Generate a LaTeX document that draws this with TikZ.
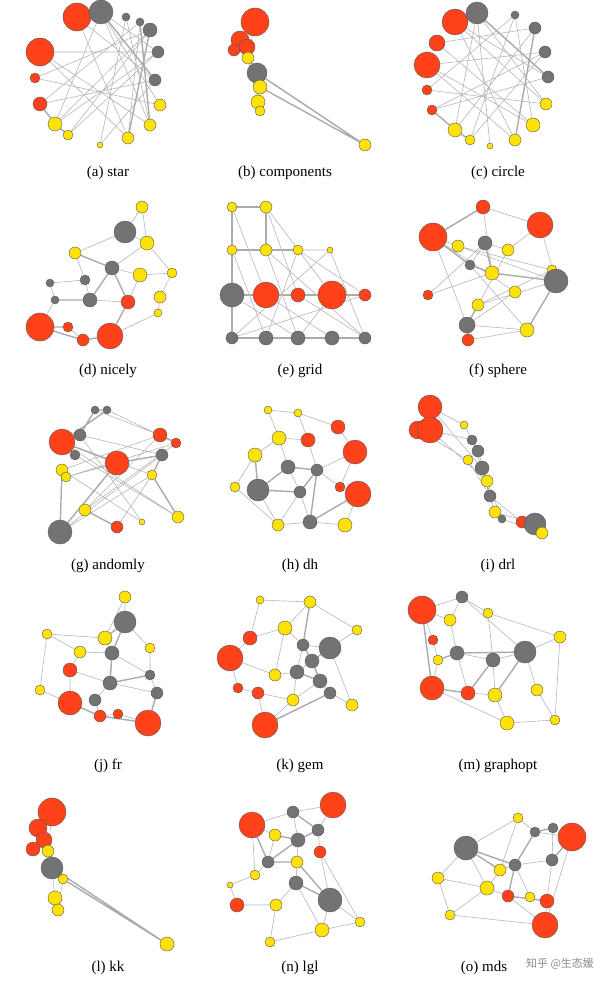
\documentclass[tikz,border=0pt]{standalone}
\usepackage{fontspec}
\setmainfont{Liberation Serif}
\newfontfamily\cjk{Noto Sans CJK SC}
\usetikzlibrary{backgrounds}
\tikzset{
 nd/.style={circle,draw=black!65,line width=0.4pt,inner sep=0pt},
 R/.style={nd,fill=red!65!orange!90!white},
 G/.style={nd,fill=black!55},
 Y/.style={nd,fill=yellow!85!orange},
 ed/.style={draw=black!28,line width=0.6pt},
 ew/.style={draw=black!33,line width=1.4pt},
 eW/.style={draw=black!33,line width=2.4pt},
 lab/.style={font=\fontsize{15}{18}\selectfont}
}
\newcommand\V[5]{\node[#5,minimum size=#4*2pt] (#1) at (#2,#3) {};}
\begin{document}
\begin{tikzpicture}[x=1pt,y=-1pt]
\useasboundingbox (0,0) rectangle (600,987);
% ---------- (a) star
\V{a1}{77}{17}{14}{R}\V{a2}{101}{12}{12}{G}\V{a3}{40}{52}{14}{R}\V{a4}{35}{78}{5}{R}
\V{a5}{40}{104}{7}{R}\V{a6}{55}{124}{7}{Y}\V{a7}{68}{135}{5}{Y}\V{a8}{100}{145}{3}{Y}
\V{a9}{128}{138}{6}{Y}\V{a10}{150}{125}{6}{Y}\V{a11}{160}{105}{6}{Y}\V{a12}{155}{80}{6}{G}
\V{a13}{158}{52}{6}{G}\V{a14}{150}{30}{7}{G}\V{a15}{126}{17}{4}{G}\V{a16}{140}{22}{4}{G}
\node[lab] (la) at (108,173) {(a) star};
% ---------- (b) components
\V{b1}{255}{22}{14}{R}\V{b2}{240}{40}{9}{R}\V{b3}{234}{50}{6}{R}\V{b4}{247}{47}{8}{R}
\V{b5}{248}{58}{6}{Y}\V{b6}{257}{73}{10}{G}\V{b7}{260}{87}{7}{Y}\V{b8}{258}{102}{7}{Y}
\V{b9}{260}{111}{5}{Y}\V{b10}{365}{145}{6}{Y}
\node[lab] (lb) at (285,173) {(b) components};
% ---------- (c) circle
\V{c1}{455}{22}{13}{R}\V{c2}{477}{13}{11}{G}\V{c3}{427}{65}{13}{R}\V{c4}{437}{43}{8}{R}
\V{c5}{427}{90}{5}{R}\V{c6}{432}{110}{5}{R}\V{c7}{455}{130}{7}{Y}\V{c8}{470}{140}{5}{Y}
\V{c9}{490}{146}{3}{Y}\V{c10}{515}{140}{6}{Y}\V{c11}{533}{125}{7}{Y}\V{c12}{546}{104}{6}{Y}
\V{c13}{548}{77}{6}{G}\V{c14}{545}{52}{6}{G}\V{c15}{535}{28}{6}{G}\V{c16}{515}{15}{4}{G}
\node[lab] (lc) at (498,173) {(c) circle};
% ---------- (d) nicely
\V{d1}{125}{232}{11}{G}\V{d2}{142}{207}{6}{Y}\V{d3}{147}{243}{7}{Y}\V{d4}{112}{268}{7}{G}
\V{d5}{140}{275}{7}{Y}\V{d6}{172}{273}{5}{Y}\V{d7}{160}{297}{6}{Y}\V{d8}{128}{302}{7}{R}
\V{d9}{90}{300}{7}{G}\V{d10}{75}{253}{6}{Y}\V{d11}{50}{283}{4}{G}\V{d12}{55}{300}{4}{G}
\V{d13}{85}{280}{5}{G}\V{d14}{40}{327}{14}{R}\V{d15}{68}{327}{5}{R}\V{d16}{110}{336}{13}{R}
\V{d17}{83}{340}{6}{R}\V{d18}{158}{313}{4}{Y}
\node[lab] (ld) at (108,371) {(d) nicely};
% ---------- (e) grid
\V{e1}{232}{207}{5}{Y}\V{e2}{266}{207}{6}{Y}
\V{e3}{232}{250}{5}{Y}\V{e4}{266}{250}{6}{Y}\V{e5}{298}{250}{5}{Y}\V{e6}{330}{250}{3}{Y}
\V{e7}{232}{295}{12}{G}\V{e8}{266}{295}{13}{R}\V{e9}{298}{295}{7}{R}\V{e10}{332}{295}{14}{R}\V{e11}{365}{295}{6}{R}
\V{e12}{232}{338}{6}{G}\V{e13}{266}{338}{7}{G}\V{e14}{298}{338}{7}{G}\V{e15}{332}{338}{7}{G}\V{e16}{365}{338}{6}{G}
\node[lab] (le) at (300,371) {(e) grid};
% ---------- (f) sphere
\V{f1}{483}{207}{7}{R}\V{f2}{540}{225}{13}{R}\V{f3}{433}{237}{14}{R}\V{f4}{485}{243}{7}{G}
\V{f5}{458}{246}{6}{Y}\V{f6}{508}{250}{6}{Y}\V{f7}{470}{265}{5}{G}\V{f8}{492}{273}{7}{Y}
\V{f9}{552}{270}{5}{Y}\V{f10}{556}{281}{12}{G}\V{f11}{428}{295}{5}{R}\V{f12}{478}{305}{6}{Y}
\V{f13}{515}{292}{6}{Y}\V{f14}{467}{325}{8}{G}\V{f15}{468}{340}{6}{R}\V{f16}{527}{330}{7}{Y}
\node[lab] (lf) at (498,371) {(f) sphere};
% ---------- (g) andomly
\V{g1}{95}{410}{4}{G}\V{g2}{107}{410}{4}{G}\V{g3}{80}{435}{6}{G}\V{g4}{62}{442}{13}{R}
\V{g5}{160}{435}{7}{R}\V{g6}{176}{443}{5}{R}\V{g7}{162}{455}{6}{G}\V{g8}{117}{463}{12}{R}
\V{g9}{62}{470}{6}{Y}\V{g10}{66}{477}{5}{Y}\V{g11}{75}{455}{5}{G}\V{g12}{152}{475}{5}{Y}
\V{g13}{85}{510}{6}{Y}\V{g14}{117}{527}{6}{R}\V{g15}{60}{532}{12}{G}\V{g16}{142}{522}{3}{Y}
\V{g17}{178}{517}{6}{Y}
\node[lab] (lg) at (108,566) {(g) andomly};
% ---------- (h) dh
\V{h1}{268}{410}{4}{Y}\V{h2}{298}{413}{4}{Y}\V{h3}{338}{427}{7}{R}\V{h4}{279}{438}{7}{Y}
\V{h5}{308}{440}{7}{R}\V{h6}{355}{452}{12}{R}\V{h7}{255}{455}{7}{Y}\V{h8}{288}{467}{7}{G}
\V{h9}{317}{470}{6}{G}\V{h10}{300}{492}{6}{G}\V{h11}{258}{490}{11}{G}\V{h12}{235}{487}{5}{Y}
\V{h13}{340}{487}{5}{R}\V{h14}{358}{494}{13}{R}\V{h15}{278}{525}{6}{Y}\V{h16}{310}{522}{7}{G}
\V{h17}{345}{525}{7}{Y}
\node[lab] (lh) at (300,566) {(h) dh};
% ---------- (i) drl
\V{i1}{430}{407}{12}{R}\V{i2}{418}{430}{9}{R}\V{i3}{430}{430}{13}{R}\V{i4}{464}{425}{4}{Y}
\V{i5}{472}{440}{5}{G}\V{i6}{478}{451}{6}{G}\V{i7}{468}{460}{5}{Y}\V{i8}{482}{468}{7}{G}
\V{i9}{487}{481}{6}{Y}\V{i10}{490}{496}{6}{G}\V{i11}{495}{512}{6}{Y}\V{i12}{502}{519}{4}{G}
\V{i13}{522}{522}{6}{R}\V{i14}{535}{524}{11}{G}\V{i15}{542}{533}{6}{Y}
\node[lab] (li) at (498,566) {(i) drl};
% ---------- (j) fr
\V{j1}{125}{597}{6}{Y}\V{j2}{125}{622}{11}{G}\V{j3}{47}{634}{5}{Y}\V{j4}{105}{638}{7}{Y}
\V{j5}{80}{652}{6}{Y}\V{j6}{112}{653}{7}{G}\V{j7}{70}{670}{7}{R}\V{j8}{150}{648}{5}{Y}
\V{j9}{150}{675}{5}{G}\V{j10}{110}{683}{7}{G}\V{j11}{40}{690}{5}{Y}\V{j12}{157}{693}{6}{G}
\V{j13}{70}{703}{12}{R}\V{j14}{95}{700}{6}{G}\V{j15}{100}{716}{6}{R}\V{j16}{118}{714}{5}{R}
\V{j17}{148}{723}{13}{R}
\node[lab] (lj) at (108,766) {(j) fr};
% ---------- (k) gem
\V{k1}{260}{600}{4}{Y}\V{k2}{310}{602}{6}{Y}\V{k3}{250}{638}{7}{R}\V{k4}{285}{628}{7}{Y}
\V{k5}{303}{645}{6}{G}\V{k6}{330}{648}{11}{G}\V{k7}{312}{661}{7}{G}\V{k8}{357}{630}{5}{Y}
\V{k9}{230}{658}{13}{R}\V{k10}{275}{675}{6}{Y}\V{k11}{297}{672}{7}{G}\V{k12}{320}{681}{7}{G}
\V{k13}{238}{688}{5}{R}\V{k14}{258}{693}{6}{R}\V{k15}{293}{700}{6}{Y}\V{k16}{330}{693}{6}{G}
\V{k17}{265}{725}{13}{R}\V{k18}{352}{705}{6}{Y}
\node[lab] (lk) at (300,766) {(k) gem};
% ---------- (m) graphopt
\V{m1}{422}{610}{14}{R}\V{m2}{462}{597}{6}{G}\V{m3}{488}{613}{5}{Y}\V{m4}{450}{620}{6}{Y}
\V{m5}{433}{640}{5}{R}\V{m6}{457}{653}{7}{G}\V{m7}{493}{660}{7}{G}\V{m8}{525}{652}{11}{G}
\V{m9}{560}{637}{6}{Y}\V{m10}{438}{660}{5}{Y}\V{m11}{432}{688}{12}{R}\V{m12}{468}{693}{7}{R}
\V{m13}{495}{695}{7}{Y}\V{m14}{537}{690}{6}{Y}\V{m15}{507}{723}{7}{Y}\V{m16}{555}{720}{5}{Y}
\node[lab] (lm) at (498,766) {(m) graphopt};
% ---------- (l) kk
\V{l1}{52}{812}{14}{R}\V{l2}{38}{828}{9}{R}\V{l3}{44}{840}{8}{R}\V{l4}{33}{849}{7}{R}
\V{l5}{48}{851}{6}{Y}\V{l6}{52}{868}{11}{G}\V{l7}{63}{879}{5}{Y}\V{l8}{55}{898}{7}{Y}
\V{l9}{58}{910}{6}{Y}\V{l10}{167}{944}{7}{Y}
\node[lab] (ll) at (108,968) {(l) kk};
% ---------- (n) lgl
\V{n1}{333}{805}{13}{R}\V{n2}{252}{825}{13}{R}\V{n3}{293}{812}{6}{G}\V{n4}{318}{830}{6}{G}
\V{n5}{320}{852}{6}{R}\V{n6}{275}{835}{6}{Y}\V{n7}{298}{840}{7}{G}\V{n8}{268}{862}{6}{G}
\V{n9}{297}{862}{6}{Y}\V{n10}{255}{875}{5}{Y}\V{n11}{330}{900}{12}{G}\V{n12}{296}{883}{7}{G}
\V{n13}{230}{885}{3}{Y}\V{n14}{237}{905}{7}{R}\V{n15}{276}{905}{6}{Y}\V{n16}{322}{930}{7}{Y}
\V{n17}{360}{922}{5}{Y}\V{n18}{270}{942}{5}{Y}
\node[lab] (ln) at (300,968) {(n) lgl};
% ---------- (o) mds
\V{o1}{518}{818}{5}{Y}\V{o2}{535}{832}{5}{G}\V{o3}{553}{828}{5}{G}\V{o4}{572}{837}{14}{R}
\V{o5}{466}{848}{12}{G}\V{o6}{515}{865}{6}{G}\V{o7}{552}{860}{6}{G}\V{o8}{500}{870}{6}{Y}
\V{o9}{438}{878}{6}{Y}\V{o10}{487}{888}{7}{Y}\V{o11}{508}{896}{6}{R}\V{o12}{547}{901}{7}{R}
\V{o13}{545}{925}{13}{R}\V{o14}{450}{915}{5}{Y}\V{o15}{530}{897}{5}{Y}
\node[lab] (lo) at (484,968) {(o) mds};
\node[font=\cjk\fontsize{11}{13}\selectfont,text=black!45] (wm) at (560,964) {知乎 @生态媛};
% ================= edges
\begin{pgfonlayer}{background}
\fill[white] (0,0) rectangle (600,987);
\draw[ed] (a1)--(a12) (a1)--(a9) (a2)--(a6) (a2)--(a11) (a3)--(a13) (a3)--(a10) (a4)--(a14) (a5)--(a16)
 (a6)--(a13) (a7)--(a14) (a8)--(a15) (a9)--(a3) (a10)--(a2) (a11)--(a4) (a12)--(a5) (a13)--(a7)
 (a14)--(a6) (a15)--(a10) (a16)--(a9) (a2)--(a13) (a12)--(a8);
\draw[ew] (a2)--(a12) (a14)--(a9) (a16)--(a10) (a5)--(a6) (a6)--(a7);
\draw[ed] (b1)--(b5) (b2)--(b6) (b4)--(b7) (b6)--(b8) (b7)--(b9) (b5)--(b8);
\draw[ew] (b6)--(b10) (b7)--(b10) (b5)--(b6) (b6)--(b7);
\draw[ed] (c1)--(c13) (c1)--(c10) (c2)--(c7) (c2)--(c12) (c3)--(c14) (c3)--(c11) (c4)--(c15) (c5)--(c16)
 (c6)--(c14) (c7)--(c15) (c8)--(c16) (c9)--(c2) (c10)--(c3) (c11)--(c4) (c12)--(c5) (c13)--(c6)
 (c14)--(c8) (c16)--(c11) (c2)--(c13) (c1)--(c12);
\draw[ew] (c2)--(c13) (c15)--(c10) (c6)--(c7) (c7)--(c8);
\draw[ed] (d1)--(d2) (d1)--(d3) (d1)--(d10) (d3)--(d4) (d4)--(d5) (d5)--(d6) (d6)--(d7) (d7)--(d18)
 (d8)--(d9) (d9)--(d13) (d13)--(d11) (d11)--(d12) (d12)--(d14) (d10)--(d13) (d3)--(d6) (d5)--(d8)
 (d2)--(d3) (d18)--(d16) (d15)--(d17);
\draw[ew] (d4)--(d9) (d4)--(d10) (d4)--(d8) (d9)--(d12) (d14)--(d15) (d16)--(d17) (d14)--(d17) (d8)--(d16);
\draw[ew] (e1)--(e2) (e1)--(e3) (e3)--(e7) (e7)--(e12) (e7)--(e8) (e8)--(e9) (e9)--(e10) (e10)--(e11)
 (e12)--(e13) (e13)--(e14) (e14)--(e15) (e15)--(e16) (e3)--(e4) (e4)--(e5) (e2)--(e4);
\draw[ed] (e5)--(e6) (e2)--(e9) (e4)--(e14) (e5)--(e13) (e6)--(e12) (e11)--(e12) (e3)--(e13) (e1)--(e8)
 (e8)--(e15) (e9)--(e16) (e5)--(e11) (e10)--(e14) (e6)--(e16) (e2)--(e10) (e7)--(e14) (e4)--(e16);
\draw[ed] (f1)--(f3) (f1)--(f2) (f1)--(f8) (f2)--(f6) (f2)--(f10) (f3)--(f5) (f3)--(f14) (f3)--(f13)
 (f4)--(f6) (f4)--(f7) (f5)--(f9) (f6)--(f12) (f7)--(f16) (f8)--(f11) (f9)--(f12) (f10)--(f12) (f13)--(f14)
 (f14)--(f16) (f11)--(f4) (f15)--(f16) (f5)--(f10);
\draw[ew] (f3)--(f7) (f7)--(f8) (f8)--(f10) (f10)--(f16) (f12)--(f14) (f14)--(f15) (f4)--(f8) (f3)--(f1);
\draw[ed] (g1)--(g5) (g2)--(g6) (g3)--(g7) (g4)--(g12) (g4)--(g17) (g5)--(g9) (g6)--(g13) (g7)--(g15)
 (g8)--(g10) (g9)--(g16) (g11)--(g17) (g12)--(g14) (g13)--(g5) (g15)--(g12) (g10)--(g6) (g3)--(g16);
\draw[ew] (g1)--(g2) (g1)--(g3) (g2)--(g4) (g4)--(g8) (g8)--(g7) (g7)--(g12) (g9)--(g15) (g13)--(g14)
 (g15)--(g8) (g12)--(g17) (g5)--(g6);
\draw[ed] (h1)--(h2) (h1)--(h4) (h2)--(h5) (h2)--(h3) (h3)--(h6) (h4)--(h7) (h4)--(h8) (h5)--(h9)
 (h6)--(h9) (h7)--(h12) (h8)--(h10) (h9)--(h13) (h10)--(h15) (h10)--(h16) (h11)--(h15) (h12)--(h15)
 (h13)--(h14) (h14)--(h17) (h16)--(h17) (h6)--(h13) (h4)--(h5) (h15)--(h16);
\draw[ew] (h8)--(h9) (h8)--(h11) (h9)--(h10) (h11)--(h7) (h9)--(h16) (h10)--(h11) (h14)--(h16);
\draw[ed] (i1)--(i4) (i3)--(i5) (i2)--(i7) (i4)--(i6) (i5)--(i8) (i6)--(i9) (i7)--(i10) (i8)--(i11)
 (i9)--(i12) (i10)--(i13) (i11)--(i14) (i12)--(i15) (i3)--(i9) (i1)--(i8);
\draw[ew] (i1)--(i3) (i2)--(i3) (i5)--(i6) (i8)--(i10) (i13)--(i14) (i14)--(i15);
\draw[ed] (j1)--(j2) (j1)--(j4) (j2)--(j8) (j3)--(j4) (j3)--(j5) (j3)--(j11) (j4)--(j6) (j5)--(j7)
 (j6)--(j9) (j7)--(j10) (j8)--(j9) (j9)--(j12) (j11)--(j13) (j12)--(j17) (j10)--(j14) (j14)--(j15)
 (j15)--(j16) (j16)--(j17) (j5)--(j6) (j10)--(j12) (j7)--(j13) (j6)--(j10);
\draw[ew] (j2)--(j6) (j2)--(j4) (j6)--(j10) (j13)--(j15) (j15)--(j17) (j9)--(j10) (j12)--(j17);
\draw[ed] (k1)--(k2) (k1)--(k3) (k2)--(k8) (k2)--(k4) (k3)--(k4) (k3)--(k9) (k4)--(k5) (k5)--(k6)
 (k6)--(k8) (k6)--(k18) (k7)--(k11) (k9)--(k10) (k9)--(k13) (k10)--(k11) (k11)--(k15) (k12)--(k16)
 (k13)--(k14) (k14)--(k15) (k15)--(k17) (k16)--(k18) (k17)--(k14) (k5)--(k11) (k4)--(k10) (k12)--(k15);
\draw[ew] (k5)--(k7) (k7)--(k12) (k6)--(k7) (k11)--(k12) (k2)--(k5) (k16)--(k17);
\draw[ed] (m1)--(m2) (m1)--(m4) (m1)--(m5) (m2)--(m3) (m2)--(m8) (m3)--(m7) (m3)--(m9) (m4)--(m6)
 (m5)--(m10) (m6)--(m7) (m7)--(m8) (m8)--(m9) (m8)--(m14) (m9)--(m16) (m10)--(m11) (m11)--(m15)
 (m12)--(m13) (m13)--(m15) (m14)--(m16) (m15)--(m16) (m6)--(m12) (m7)--(m13) (m4)--(m2);
\draw[ew] (m1)--(m11) (m6)--(m10) (m6)--(m8) (m7)--(m12) (m8)--(m13) (m11)--(m12);
\draw[ed] (l1)--(l5) (l2)--(l6) (l3)--(l7) (l6)--(l8) (l7)--(l9) (l5)--(l7);
\draw[ew] (l6)--(l10) (l7)--(l10) (l8)--(l9) (l6)--(l7);
\draw[ed] (n1)--(n3) (n1)--(n4) (n2)--(n3) (n2)--(n6) (n3)--(n7) (n4)--(n5) (n5)--(n11) (n6)--(n8)
 (n7)--(n9) (n8)--(n10) (n9)--(n12) (n10)--(n13) (n11)--(n16) (n11)--(n17) (n12)--(n15) (n13)--(n14)
 (n14)--(n15) (n15)--(n18) (n16)--(n18) (n17)--(n16) (n2)--(n10) (n12)--(n16) (n5)--(n17);
\draw[ew] (n3)--(n4) (n4)--(n7) (n7)--(n8) (n8)--(n9) (n9)--(n11) (n11)--(n12) (n6)--(n7) (n2)--(n8);
\draw[ed] (o1)--(o2) (o1)--(o5) (o1)--(o8) (o2)--(o4) (o3)--(o4) (o3)--(o7) (o5)--(o9) (o5)--(o10)
 (o6)--(o8) (o6)--(o7) (o7)--(o12) (o8)--(o10) (o9)--(o14) (o10)--(o11) (o10)--(o14) (o11)--(o13)
 (o12)--(o13) (o4)--(o13) (o14)--(o13) (o6)--(o15) (o9)--(o10);
\draw[ew] (o5)--(o6) (o2)--(o6) (o2)--(o3) (o6)--(o11) (o7)--(o4) (o11)--(o12) (o5)--(o8);
\end{pgfonlayer}
\end{tikzpicture}
\end{document}
